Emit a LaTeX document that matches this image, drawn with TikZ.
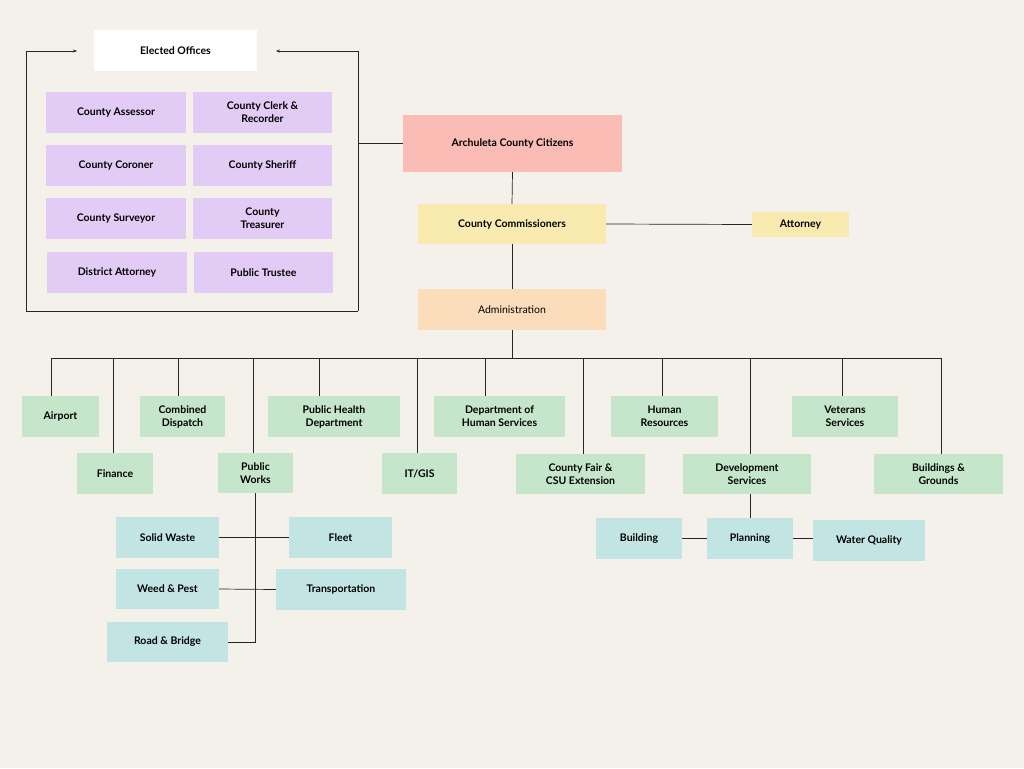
\documentclass[tikz,border=0pt]{standalone}
\usepackage{fontspec}
\setmainfont{Lato}
\usetikzlibrary{arrows.meta}
\definecolor{bg}{HTML}{F4F0EA}
\definecolor{purp}{HTML}{E2CCF5}
\definecolor{pinkc}{HTML}{FBBCB5}
\definecolor{yel}{HTML}{F9EBB0}
\definecolor{ora}{HTML}{FBDDBB}
\definecolor{grn}{HTML}{C5E6CB}
\definecolor{cya}{HTML}{C2E5E3}
\tikzset{
 bx/.style={inner sep=0pt,align=center,font=\fontsize{10.5}{13}\selectfont\bfseries},
 ln/.style={draw=black!85,line width=0.7pt},
}
\newcommand{\bxn}[7]{\node[bx,fill=#6,minimum width={#4-#2},minimum height={#5-#3}] (#1) at ({(#2+#4)/2},{(#3+#5)/2}) {#7};}
\begin{document}
\begin{tikzpicture}[x=1pt,y=-1pt]
\fill[bg] (0,0) rectangle (1024,768);
\useasboundingbox (0,0) rectangle (1024,768);
\bxn{eo}{94}{30}{257}{71}{white}{Elected Offices}
\bxn{ca}{46}{92}{186}{133}{purp}{County Assessor}
\bxn{cc}{193}{92}{332}{133}{purp}{County Clerk \&\\Recorder}
\bxn{co}{46}{145}{186}{186}{purp}{County Coroner}
\bxn{cs}{193}{145}{332}{186}{purp}{County Sheriff}
\bxn{su}{46}{198}{186}{239}{purp}{County Surveyor}
\bxn{tr}{193}{198}{332}{239}{purp}{County\\Treasurer}
\bxn{da}{47}{252}{187}{293}{purp}{District Attorney}
\bxn{pt}{194}{252}{333}{293}{purp}{Public Trustee}
\bxn{cit}{403}{115}{622}{172}{pinkc}{Archuleta County Citizens}
\bxn{com}{418}{204}{606}{244}{yel}{County Commissioners}
\bxn{att}{752}{212}{849}{237}{yel}{Attorney}
\node[bx,fill=ora,minimum width=188,minimum height=41,font=\fontsize{10.5}{13}\selectfont] (adm) at (512,309.5) {Administration};
\bxn{air}{22}{396}{99}{437}{grn}{Airport}
\bxn{fin}{77}{453}{153}{494}{grn}{Finance}
\bxn{cd}{140}{396}{225}{437}{grn}{Combined\\Dispatch}
\bxn{pw}{218}{453}{293}{493}{grn}{Public\\Works}
\bxn{ph}{268}{396}{400}{437}{grn}{Public Health\\Department}
\bxn{it}{382}{453}{457}{494}{grn}{IT/GIS}
\bxn{hs}{434}{396}{565}{437}{grn}{Department of\\Human Services}
\bxn{cf}{516}{454}{645}{494}{grn}{County Fair \&\\CSU Extension}
\bxn{hr}{611}{396}{718}{437}{grn}{Human\\Resources}
\bxn{ds}{683}{454}{811}{494}{grn}{Development\\Services}
\bxn{vs}{792}{396}{898}{437}{grn}{Veterans\\Services}
\bxn{bg}{874}{454}{1003}{494}{grn}{Buildings \&\\Grounds}
\bxn{sw}{116}{517}{219}{558}{cya}{Solid Waste}
\bxn{fl}{289}{517}{392}{558}{cya}{Fleet}
\bxn{wp}{116}{569}{219}{609}{cya}{Weed \& Pest}
\bxn{tp}{276}{569}{406}{610}{cya}{Transportation}
\bxn{rb}{107}{622}{228}{662}{cya}{Road \& Bridge}
\bxn{bu}{596}{518}{682}{559}{cya}{Building}
\bxn{pl}{707}{518}{793}{559}{cya}{Planning}
\bxn{wq}{813}{520}{925}{561}{cya}{Water Quality}
% bracket
\coordinate (bl) at (26,311); \coordinate (br) at (358,311);
\coordinate (la) at (77,51); \coordinate (ra) at (276,51);
\draw[ln,-{Stealth[length=4pt]}] (bl) -- (26,51) -- (la);
\draw[ln,-{Stealth[length=4pt]}] (br) -- (358,51) -- (ra);
\draw[ln] (bl) -- (br);
\draw[ln] (cit.west) -- (cit.west -| br);
\draw[ln] (cit.south) -- (com.north);
\draw[ln] (com.east) -- (att.west);
\draw[ln] (com.south) -- (adm.north);
\coordinate (bus) at (512,358);
\draw[ln] (adm.south) -- (bus);
\draw[ln] (51,358) -- (941,358);
\foreach \n/\x in {air/51,fin/113,cd/178,pw/253,ph/319,it/417,hs/485,cf/583,hr/662,ds/750,vs/842,bg/941}
  \draw[ln] (\x,358) -- (\x,0 |- \n.north);
\draw[ln] (pw.south) |- (rb.east);
\draw[ln] (sw.east) -- (fl.west);
\draw[ln] (wp.east) -- (tp.west);
\draw[ln] (ds.south -| pl.north) -- (pl.north);
\draw[ln] (bu.east) -- (pl.west);
\draw[ln] (pl.east) -- (wq.west |- pl.east);
\end{tikzpicture}
\end{document}
